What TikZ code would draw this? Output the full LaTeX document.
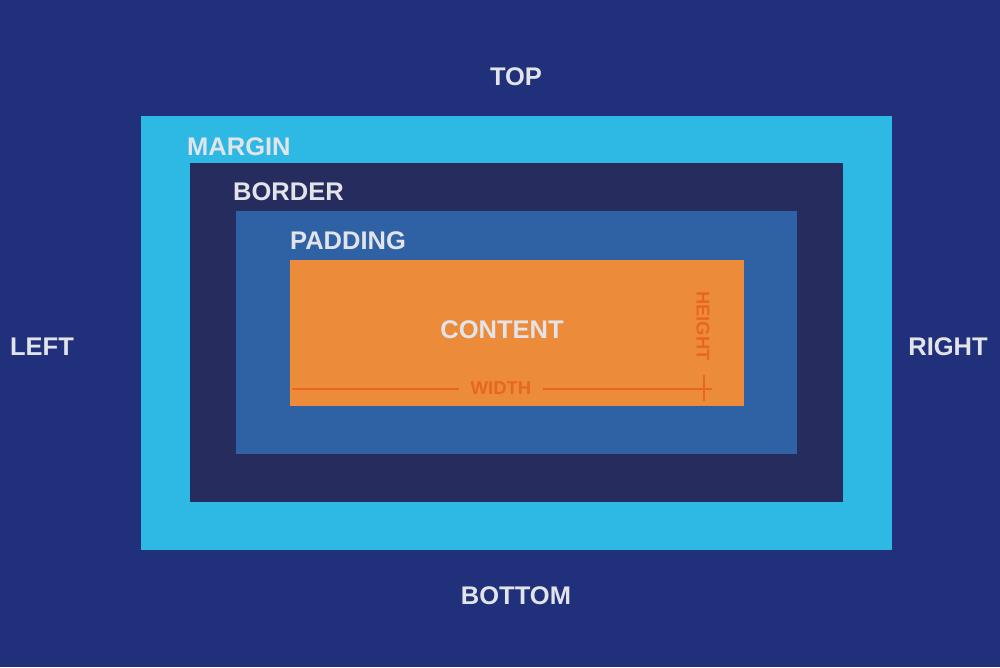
\documentclass[tikz,border=0pt]{standalone}
\usepackage{fontspec}
\setmainfont{Liberation Sans}
\definecolor{bgblue}{HTML}{21307A}
\definecolor{marginblue}{HTML}{2EB9E5}
\definecolor{bordernavy}{HTML}{262C5E}
\definecolor{padblue}{HTML}{2F62A5}
\definecolor{contentorange}{HTML}{EC8C3B}
\definecolor{dimorange}{HTML}{E8671E}
\definecolor{labelgrey}{HTML}{E2E4EA}
\tikzset{
  biglabel/.style={text=labelgrey, font=\bfseries\fontsize{25.5}{30}\selectfont, inner sep=0pt},
  dimlabel/.style={text=dimorange, font=\bfseries\fontsize{18.5}{22}\selectfont, inner sep=0pt},
  dimline/.style={draw=dimorange, line width=1.8pt}
}
\begin{document}
\begin{tikzpicture}[x=1pt,y=-1pt]
\useasboundingbox (0,0) rectangle (1000,667);
\fill[bgblue] (0,0) rectangle (1000,667);
\fill[marginblue] (141,116) rectangle (892,550);
\fill[bordernavy] (190,163) rectangle (843,502);
\fill[padblue] (236,211) rectangle (797,454);
\fill[contentorange] (290,260) rectangle (744,406);

\node[biglabel] (top) at (516,77) {TOP};
\node[biglabel] (bottom) at (516,596) {BOTTOM};
\node[biglabel] (left) at (42,347) {LEFT};
\node[biglabel] (right) at (948,347) {RIGHT};
\node[biglabel, anchor=west] (margin) at (187,147) {MARGIN};
\node[biglabel, anchor=west] (border) at (233,192) {BORDER};
\node[biglabel, anchor=west] (padding) at (290,241) {PADDING};
\node[biglabel] (content) at (502,330) {CONTENT};

\node[dimlabel] (width) at (501,388) {WIDTH};
\node[dimlabel, rotate=-90] (height) at (703,326) {HEIGHT};
\coordinate (wl) at (292,389);
\coordinate (wr) at (712,389);
\coordinate (tt) at (704,375);
\coordinate (tb) at (704,401);
\draw[dimline] (wl) -- ([xshift=-11pt]width.west |- wl);
\draw[dimline] ([xshift=11pt]width.east |- wr) -- (wr);
\draw[dimline] (tt) -- (tb);
\end{tikzpicture}
\end{document}
